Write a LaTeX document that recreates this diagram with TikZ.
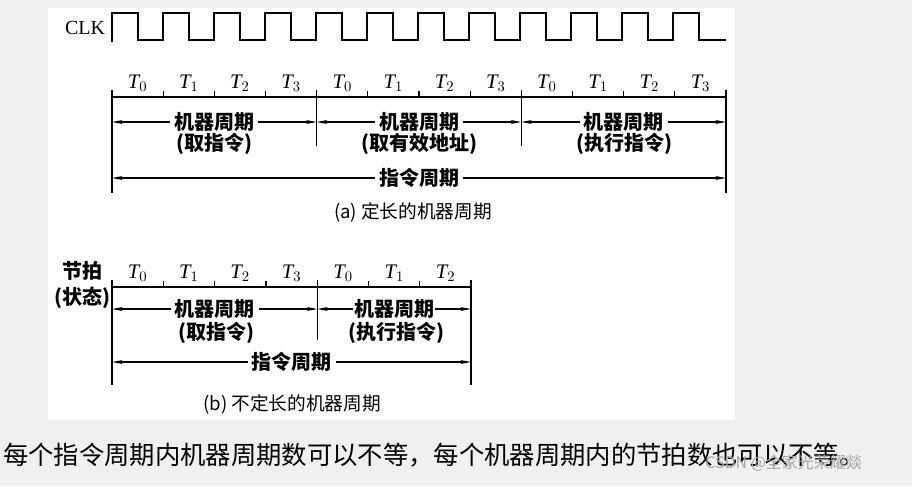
\documentclass[tikz,border=0pt]{standalone}
\usepackage{fontspec}
\setmainfont{Liberation Serif}
\newfontfamily\cjk{Noto Sans CJK SC}
\usetikzlibrary{arrows.meta}
\tikzset{
  ln/.style={line width=0.9pt,black},
  arr/.style={ln,{Stealth[length=8pt,width=3pt]}-{Stealth[length=8pt,width=3pt]}},
  lab/.style={font=\cjk\bfseries\fontsize{15}{16}\selectfont,fill=white,inner xsep=3pt,inner ysep=1pt},
  tl/.style={font=\itshape\fontsize{15.5}{16}\selectfont},
  captxt/.style={font=\cjk\fontsize{14}{15}\selectfont},
}
\begin{document}
\begin{tikzpicture}[x=0.75pt,y=-0.75pt]
\fill[black!6] (0,0) rectangle (912,486);
\useasboundingbox (0,0) rectangle (912,486);
\fill[white] (48,8) rectangle (735,420);
% clock
\node[font=\fontsize{15}{15}\selectfont] (clk) at (85,28) {CLK};
\draw[ln] (112,42) \foreach \k in {0,...,11} { -- ({112+51*\k},40) -- ({112+51*\k},13) -- ({138+51*\k},13) -- ({138+51*\k},40) } -- (726,40);
% timeline a
\draw[ln] (112,97) -- (726,97);
\foreach \k in {1,2,3,5,6,7,9,10,11} \draw[ln] ({112+51.17*\k},97) -- ({112+51.17*\k},91);
\draw[ln] (112,90) -- (112,193); \draw[ln] (726,90) -- (726,193);
\draw[ln] (316.7,90) -- (316.7,146); \draw[ln] (521.3,90) -- (521.3,146);
\foreach \g in {0,1,2} \foreach \i in {0,1,2,3}
  \node[tl] at ({137.6+51.17*(4*\g+\i)},83) {T$_{\i}$};
\coordinate (a0) at (112,122); \coordinate (a1) at (316.7,122);
\coordinate (a2) at (521.3,122); \coordinate (a3) at (726,122);
\draw[arr] (a0) -- (a1) node[midway,lab] {机器周期};
\draw[arr] (a1) -- (a2) node[midway,lab] {机器周期};
\draw[arr] (a2) -- (a3) node[midway,lab] {机器周期};
\node[lab] at (214,144) {(取指令)};
\node[lab] at (419,144) {(取有效地址)};
\node[lab] at (624,144) {(执行指令)};
\coordinate (i0) at (112,178); \coordinate (i1) at (726,178);
\draw[arr] (i0) -- (i1) node[midway,lab] {指令周期};
\node[captxt] at (413,212) {(a) 定长的机器周期};
% timeline b
\node[lab,align=center,font=\cjk\bfseries\fontsize{15}{19}\selectfont,fill=none] at (82,285) {节拍\\(状态)};
\draw[ln] (112,287) -- (471,287);
\foreach \k in {1,2,3,5,6} \draw[ln] ({112+51.3*\k},287) -- ({112+51.3*\k},281);
\draw[ln] (112,280) -- (112,385); \draw[ln] (471,280) -- (471,385);
\draw[ln] (317.3,280) -- (317.3,340);
\foreach \i in {0,1,2,3} \node[tl] at ({137.6+51.3*\i},273) {T$_{\i}$};
\foreach \i in {0,1,2} \node[tl] at ({343+51.3*\i},273) {T$_{\i}$};
\coordinate (b0) at (112,309); \coordinate (b1) at (317.3,309); \coordinate (b2) at (471,309);
\draw[arr] (b0) -- (b1) node[midway,lab] {机器周期};
\draw[arr] (b1) -- (b2) node[midway,lab,inner xsep=0.5pt] {机器周期};
\node[lab] at (216,333) {(取指令)};
\node[lab] at (396,333) {(执行指令)};
\coordinate (j0) at (112,362); \coordinate (j1) at (471,362);
\draw[arr] (j0) -- (j1) node[midway,lab] {指令周期};
\node[captxt] at (292,404) {(b) 不定长的机器周期};
% bottom text
\node[anchor=west,font=\cjk\fontsize{19}{19}\selectfont,inner sep=0pt] at (3,455) {每个指令周期内机器周期数可以不等，每个机器周期内的节拍数也可以不等。};
\node[anchor=west,font=\cjk\fontsize{12}{12}\selectfont,text=black!35,inner sep=0pt] at (705,463) {CSDN @全家光荣耀燚};
\end{tikzpicture}
\end{document}
